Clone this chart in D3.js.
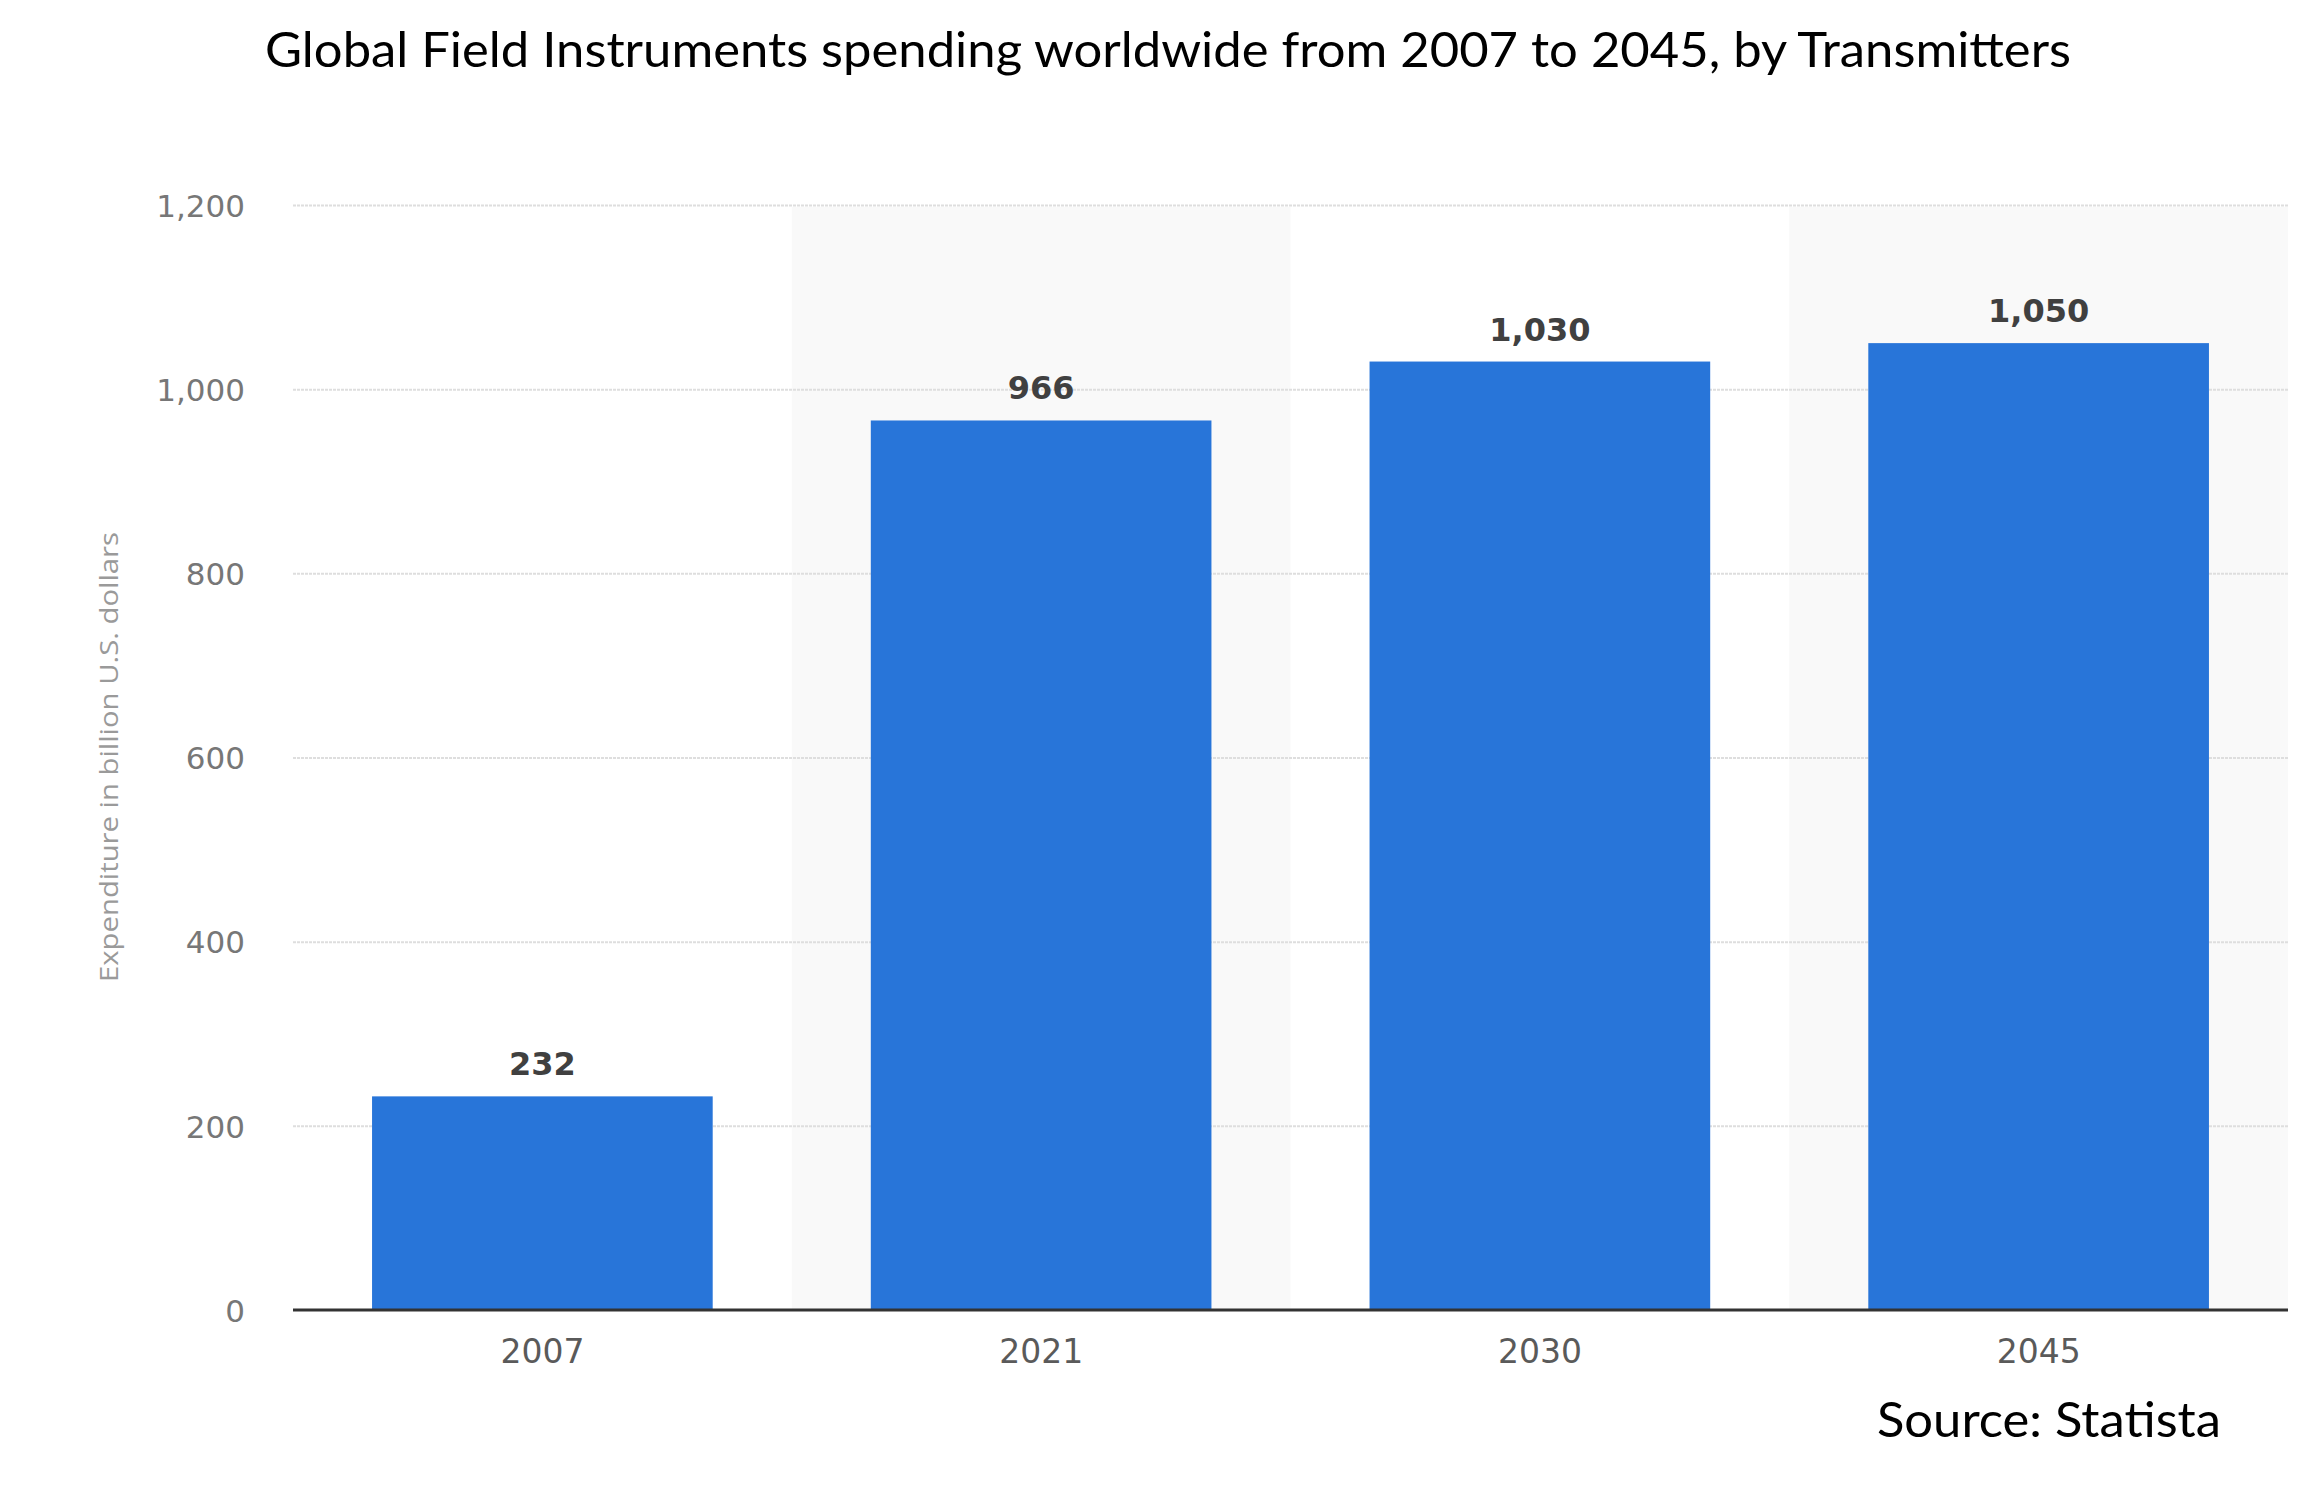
<!DOCTYPE html>
<html>
<head>
<meta charset="utf-8">
<script src="https://cdn.jsdelivr.net/npm/d3@7"></script>
<style>
  html, body { margin: 0; padding: 0; background: #ffffff; }
  svg { display: block; }
</style>
</head>
<body>
<svg id="chart" width="2323" height="1487"></svg>
<script>
// ---- data ----
const categories = ["2007", "2021", "2030", "2045"];
const values = [232, 966, 1030, 1050];
const yTicks = [0, 200, 400, 600, 800, 1000, 1200];
const titleText = "Global Field Instruments spending worldwide from 2007 to 2045, by Transmitters";
const yAxisTitle = "Expenditure in billion U.S. dollars";
const sourceText = "Source: Statista";

// ---- layout ----
const W = 2323, H = 1487;
const plot = { left: 293, right: 2288, top: 205, bottom: 1310 };
const svg = d3.select("#chart");

const x = d3.scaleBand()
  .domain(categories)
  .range([plot.left, plot.right])
  .paddingInner(0.317)
  .paddingOuter(0.1585);

const y = d3.scaleLinear().domain([0, 1200]).range([plot.bottom, plot.top]);

// alternating column shading (2nd and 4th columns)
const step = x.step();
svg.append("g").selectAll("rect")
  .data(categories.filter((d, i) => i % 2 === 1))
  .join("rect")
  .attr("x", d => x(d) - x.paddingOuter() * step)
  .attr("y", y(1200) + 2)
  .attr("width", step)
  .attr("height", y(0) - y(1200) - 2)
  .attr("fill", "#f9f9f9");

// gridlines
svg.append("g")
  .attr("transform", `translate(${plot.left},0)`)
  .call(d3.axisLeft(y).tickValues(yTicks.filter(d => d > 0)).tickSize(-(plot.right - plot.left)).tickFormat(""))
  .call(g => g.select(".domain").remove())
  .call(g => g.selectAll("line")
    .attr("stroke", "#dedede")
    .attr("stroke-width", 2)
    .attr("stroke-dasharray", "3,1"));

// y tick labels
svg.append("g")
  .attr("transform", `translate(${plot.left},0)`)
  .call(d3.axisLeft(y).tickValues(yTicks).tickSize(0).tickPadding(48).tickFormat(d3.format(",")))
  .call(g => g.select(".domain").remove())
  .call(g => g.selectAll("text")
    .attr("fill", "#777777")
    .attr("font-family", "'DejaVu Sans', sans-serif")
    .attr("font-size", 31)
    .attr("dy", "0.36em"));

// bars
svg.append("g").selectAll("rect")
  .data(values)
  .join("rect")
  .attr("x", (d, i) => x(categories[i]))
  .attr("y", d => y(d))
  .attr("width", x.bandwidth())
  .attr("height", d => y(0) - y(d))
  .attr("fill", "#2875d9");

// value labels
svg.append("g").selectAll("text")
  .data(values)
  .join("text")
  .attr("x", (d, i) => x(categories[i]) + x.bandwidth() / 2)
  .attr("y", d => y(d) - 21)
  .attr("text-anchor", "middle")
  .attr("font-family", "'DejaVu Sans', sans-serif")
  .attr("font-weight", "bold")
  .attr("font-size", 32)
  .attr("fill", "#404040")
  .text(d => d3.format(",")(d));

// x axis
svg.append("g")
  .attr("transform", `translate(0,${plot.bottom})`)
  .call(d3.axisBottom(x).tickSize(0).tickPadding(30))
  .call(g => g.select(".domain")
    .attr("stroke", "#333333")
    .attr("stroke-width", 3)
    .attr("d", `M${plot.left},0H${plot.right}`))
  .call(g => g.selectAll("text")
    .attr("fill", "#5a5a5a")
    .attr("font-family", "'DejaVu Sans', sans-serif")
    .attr("font-size", 33));

// y axis title
svg.append("text")
  .attr("transform", `translate(118,757) rotate(-90)`)
  .attr("text-anchor", "middle")
  .attr("font-family", "'Open Sans', sans-serif")
  .attr("font-size", 26)
  .attr("fill", "#9a9a9a")
  .attr("textLength", 450)
  .attr("lengthAdjust", "spacingAndGlyphs")
  .text(yAxisTitle);

// title
svg.append("text")
  .attr("x", 1168)
  .attr("y", 67)
  .attr("text-anchor", "middle")
  .attr("font-family", "Lato, sans-serif")
  .attr("font-size", 49)
  .attr("fill", "#000000")
  .attr("textLength", 1806)
  .attr("lengthAdjust", "spacingAndGlyphs")
  .text(titleText);

// source
svg.append("text")
  .attr("x", 1877)
  .attr("y", 1437)
  .attr("font-family", "Lato, sans-serif")
  .attr("font-size", 48)
  .attr("fill", "#000000")
  .attr("textLength", 344)
  .attr("lengthAdjust", "spacingAndGlyphs")
  .text(sourceText);
</script>
</body>
</html>
